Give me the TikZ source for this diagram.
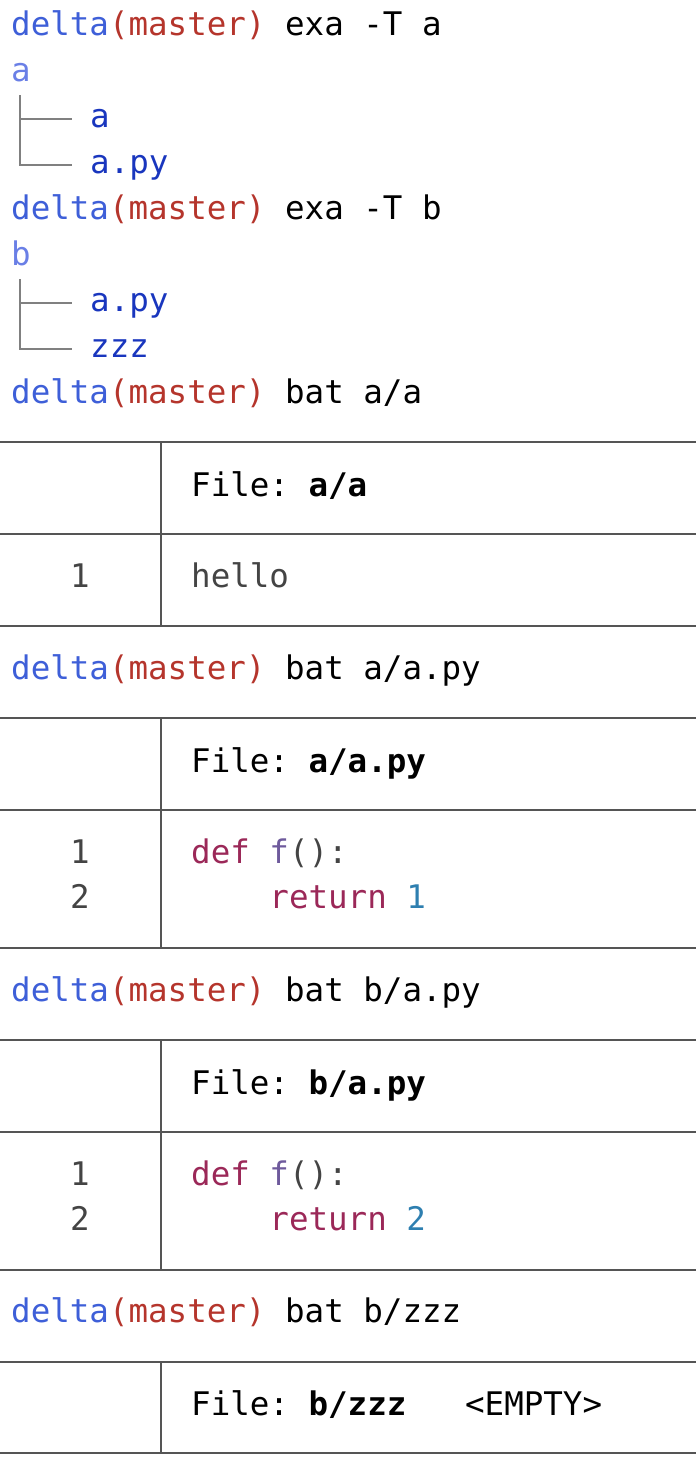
\documentclass[tikz,border=0pt]{standalone}
\usepackage{fontspec}
\setmonofont{DejaVu Sans Mono}
\definecolor{pblue}{HTML}{3E5FD8}
\definecolor{pred}{HTML}{B5352C}
\definecolor{dirc}{HTML}{6A7FE6}
\definecolor{filec}{HTML}{1936BE}
\definecolor{kw}{HTML}{9B2858}
\definecolor{fn}{HTML}{6E5A9C}
\definecolor{num}{HTML}{2E7FB0}
\definecolor{lnum}{HTML}{444444}
\definecolor{rule}{HTML}{555555}
\begin{document}
\begin{tikzpicture}[x=1pt,y=-1pt,
  txt/.style={anchor=west,inner sep=0pt,text height=24pt,text depth=7pt,font=\ttfamily\fontsize{32.5}{46}\selectfont},
  hr/.style={draw=rule,line width=1.2pt},
  tree/.style={draw=gray,line width=1.2pt}]
\useasboundingbox (0,0) rectangle (696,1472);
\newcommand{\prompt}[3]{\node[txt] (#1) at (11,#2) {\textcolor{pblue}{delta}\textcolor{pred}{(master)} #3};}
\prompt{p1}{27}{exa -T a}
\node[txt,text=dirc] (d1) at (11,73) {a};
\draw[tree] (20,95) -- (20,165) -- (72,165); \draw[tree] (20,119) -- (72,119);
\node[txt,text=filec] (f1) at (90,119) {a};
\node[txt,text=filec] (f2) at (90,165) {a.py};
\prompt{p2}{211}{exa -T b}
\node[txt,text=dirc] (d2) at (11,257) {b};
\draw[tree] (20,279) -- (20,349) -- (72,349); \draw[tree] (20,303) -- (72,303);
\node[txt,text=filec] (f3) at (90,303) {a.py};
\node[txt,text=filec] (f4) at (90,349) {zzz};
\prompt{p3}{395}{bat a/a}
% table 1
\draw[hr] (0,442) -- (696,442); \draw[hr] (0,534) -- (696,534); \draw[hr] (0,626) -- (696,626);
\draw[hr] (161,442) -- (161,626);
\node[txt] (h1) at (191,488) {File: \textbf{a/a}};
\node[txt,text=lnum] (n1) at (70,579) {1};
\node[txt,text=lnum] (c1) at (191,579) {hello};
\prompt{p4}{671}{bat a/a.py}
\draw[hr] (0,718) -- (696,718); \draw[hr] (0,810) -- (696,810); \draw[hr] (0,948) -- (696,948);
\draw[hr] (161,718) -- (161,948);
\node[txt] (h2) at (191,764) {File: \textbf{a/a.py}};
\node[txt,text=lnum] (n2) at (70,855) {1};
\node[txt,text=lnum] (n3) at (70,900) {2};
\node[txt] (c2) at (191,855) {\textcolor{kw}{def} \textcolor{fn}{f}\textcolor{lnum}{():}};
\node[txt] (c3) at (191,900) {\phantom{def }\textcolor{kw}{return} \textcolor{num}{1}};
\prompt{p5}{993}{bat b/a.py}
\draw[hr] (0,1040) -- (696,1040); \draw[hr] (0,1132) -- (696,1132); \draw[hr] (0,1270) -- (696,1270);
\draw[hr] (161,1040) -- (161,1270);
\node[txt] (h3) at (191,1086) {File: \textbf{b/a.py}};
\node[txt,text=lnum] (n4) at (70,1177) {1};
\node[txt,text=lnum] (n5) at (70,1222) {2};
\node[txt] (c4) at (191,1177) {\textcolor{kw}{def} \textcolor{fn}{f}\textcolor{lnum}{():}};
\node[txt] (c5) at (191,1222) {\phantom{def }\textcolor{kw}{return} \textcolor{num}{2}};
\prompt{p6}{1314}{bat b/zzz}
\draw[hr] (0,1362) -- (696,1362); \draw[hr] (0,1453) -- (696,1453);
\draw[hr] (161,1362) -- (161,1453);
\node[txt] (h4) at (191,1407) {File: \textbf{b/zzz}\ \ \ <EMPTY>};
\end{tikzpicture}
\end{document}
